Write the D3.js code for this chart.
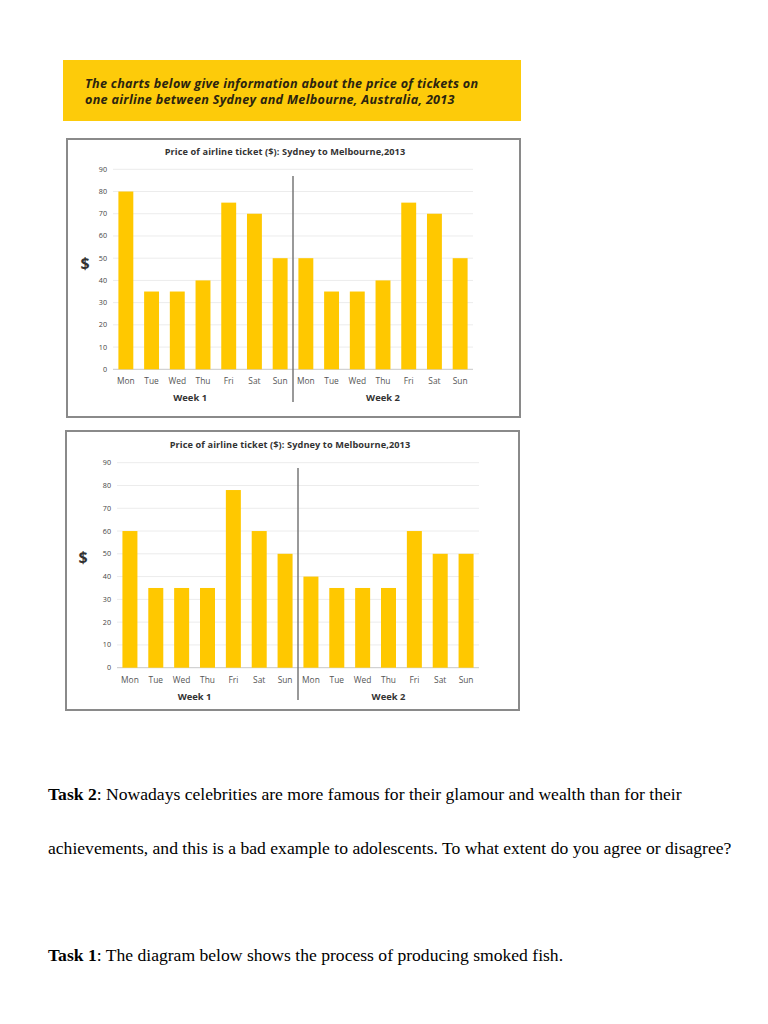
<!DOCTYPE html>
<html>
<head>
<meta charset="utf-8">
<script src="https://cdn.jsdelivr.net/npm/d3@7"></script>
<style>
  body { margin: 0; background: #fff; }
  svg { display: block; }
</style>
</head>
<body>
<svg id="page" width="768" height="1024"></svg>
<script>
// data
var days = ["Mon", "Tue", "Wed", "Thu", "Fri", "Sat", "Sun"];
var weeks = ["Week 1", "Week 2"];
var yTicks = [0, 10, 20, 30, 40, 50, 60, 70, 80, 90];

var chart1Week1 = [80, 35, 35, 40, 75, 70, 50];
var chart1Week2 = [50, 35, 35, 40, 75, 70, 50];
var chart2Week1 = [60, 35, 35, 35, 78, 60, 50];
var chart2Week2 = [40, 35, 35, 35, 60, 50, 50];

var chartTitle = "Price of airline ticket ($): Sydney to Melbourne,2013";
var bannerLines = [
    "The charts below give information about the price of tickets on",
    "one airline between Sydney and Melbourne, Australia, 2013"
];

var svg = d3.select("#page");

// yellow heading box
svg.append("rect")
    .attr("x", 63).attr("y", 60)
    .attr("width", 458).attr("height", 61)
    .style("fill", "#fdcb0a");

svg.selectAll(".banner")
    .data(bannerLines)
    .enter().append("text")
    .attr("x", 85)
    .attr("y", (d, i) => 88 + i * 16)
    .style("font-family", "'Open Sans', sans-serif")
    .style("font-style", "italic")
    .style("font-weight", "bold")
    .style("font-size", "12.6px")
    .style("letter-spacing", "0.3px")
    .style("fill", "#2b2410")
    .text((d) => d);

function drawChart(cfg) {
    var g = svg.append("g");
    var values = cfg.week1.concat(cfg.week2);
    var keys = d3.range(values.length);

    g.append("rect")
        .attr("x", cfg.box[0]).attr("y", cfg.box[1])
        .attr("width", cfg.box[2]).attr("height", cfg.box[3])
        .style("fill", "#fff")
        .style("stroke", "#8a8a8a")
        .style("stroke-width", 2);

    g.append("text")
        .attr("x", cfg.titleX).attr("y", cfg.titleY)
        .attr("text-anchor", "middle")
        .style("font-family", "'Open Sans', sans-serif")
        .style("font-weight", "bold")
        .style("font-size", "9.2px")
        .style("letter-spacing", "0.1px")
        .style("fill", "#333")
        .text(chartTitle);

    var x = d3.scaleBand()
        .domain(keys)
        .range(cfg.xRange)
        .paddingInner(0.42)
        .paddingOuter(0.21);

    var y = d3.scaleLinear()
        .domain([0, 90])
        .range(cfg.yRange);

    // grid
    g.selectAll(".grid")
        .data(yTicks)
        .enter().append("line")
        .attr("x1", cfg.xRange[0]).attr("x2", cfg.xRange[1])
        .attr("y1", (d) => y(d)).attr("y2", (d) => y(d))
        .style("stroke", (d) => d === 0 ? "#c8c8c8" : "#ececec")
        .style("stroke-width", 1);

    g.selectAll(".ytick")
        .data(yTicks)
        .enter().append("text")
        .attr("x", cfg.xRange[0] - 6)
        .attr("y", (d) => y(d) + 2.5)
        .attr("text-anchor", "end")
        .style("font-family", "'Open Sans', sans-serif")
        .style("font-size", "7.2px")
        .style("fill", "#444")
        .text((d) => d);

    g.selectAll(".bar")
        .data(values)
        .enter().append("rect")
        .attr("x", (d, i) => x(i))
        .attr("y", (d) => y(d))
        .attr("width", x.bandwidth())
        .attr("height", (d) => y(0) - y(d))
        .style("fill", "#ffc800");

    g.selectAll(".day")
        .data(values)
        .enter().append("text")
        .attr("x", (d, i) => x(i) + x.bandwidth() / 2)
        .attr("y", y(0) + 15)
        .attr("text-anchor", "middle")
        .style("font-family", "'Open Sans', sans-serif")
        .style("font-size", "8.4px")
        .style("fill", "#555")
        .text((d, i) => days[i % 7]);

    // divider between the two weeks
    var step = x.step();
    var divX = x(7) - (step - x.bandwidth()) / 2;
    g.append("line")
        .attr("x1", divX).attr("x2", divX)
        .attr("y1", cfg.divY[0]).attr("y2", cfg.divY[1])
        .style("stroke", "#777")
        .style("stroke-width", 1.5);

    var weekX = [
        x(3) - (step - x.bandwidth()) / 2,
        x(10) + x.bandwidth() / 2
    ];
    g.selectAll(".week")
        .data(weeks)
        .enter().append("text")
        .attr("x", (d, i) => weekX[i])
        .attr("y", y(0) + 32)
        .attr("text-anchor", "middle")
        .style("font-family", "'Open Sans', sans-serif")
        .style("font-weight", "bold")
        .style("font-size", "9.4px")
        .style("fill", "#333")
        .text((d) => d);

    g.append("text")
        .attr("x", cfg.dollar[0]).attr("y", cfg.dollar[1])
        .attr("text-anchor", "middle")
        .style("font-family", "'Open Sans', sans-serif")
        .style("font-weight", "bold")
        .style("font-size", "16px")
        .style("fill", "#333")
        .text("$");
}

drawChart({
    week1: chart1Week1, week2: chart1Week2,
    box: [67, 139, 453, 278],
    titleX: 285, titleY: 155,
    xRange: [113, 473], yRange: [369.3, 169.3],
    divY: [176, 402],
    dollar: [85, 269]
});

drawChart({
    week1: chart2Week1, week2: chart2Week2,
    box: [66, 431, 453, 279],
    titleX: 290, titleY: 448,
    xRange: [117, 479], yRange: [667.7, 462.7],
    divY: [468, 700],
    dollar: [83, 563]
});

// text below the charts
var taskLines = [
    { bold: "Task 2", rest: ": Nowadays celebrities are more famous for their glamour and wealth than for their", y: 800 },
    { bold: "", rest: "achievements, and this is a bad example to adolescents. To what extent do you agree or disagree?", y: 854 },
    { bold: "Task 1", rest: ": The diagram below shows the process of producing smoked fish.", y: 961 }
];

var t = svg.selectAll(".task")
    .data(taskLines)
    .enter().append("text")
    .attr("x", 48)
    .attr("y", (d) => d.y)
    .style("font-family", "'Liberation Serif', 'Times New Roman', serif")
    .style("font-size", "17.6px")
    .style("fill", "#000");
t.append("tspan").style("font-weight", "bold").text((d) => d.bold);
t.append("tspan").text((d) => d.rest);
</script>
</body>
</html>
